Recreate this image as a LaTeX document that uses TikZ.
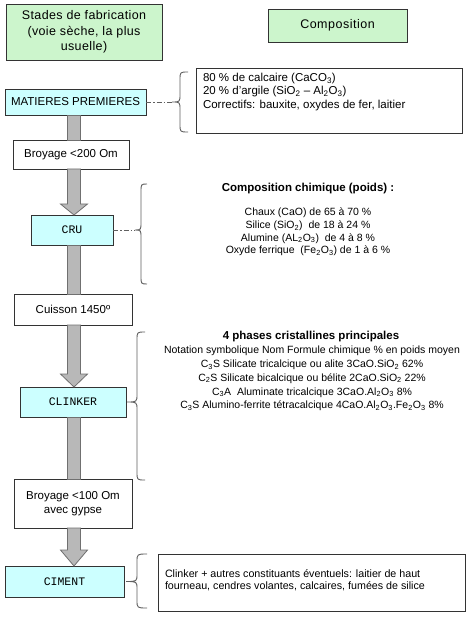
\documentclass[tikz,border=0pt]{standalone}
\usepackage{fontspec}
\setmainfont{Liberation Sans}
\newfontfamily\monof{Liberation Mono}
\usetikzlibrary{calc}
\definecolor{boxgreen}{HTML}{CCF5CC}
\definecolor{boxcyan}{HTML}{CCFFFF}
\definecolor{shaftfill}{HTML}{B8B8B8}
\definecolor{shaftline}{HTML}{707070}
\definecolor{bracecol}{HTML}{606060}
\definecolor{edgecol}{HTML}{333333}
\tikzset{
 every node/.style={inner sep=0pt, outer sep=0pt},
 stagebox/.style={draw=edgecol, line width=0.8pt, fill=white, font=\fontsize{11.5}{14}\selectfont, align=center},
 cyanbox/.style={stagebox, fill=boxcyan},
 monobox/.style={cyanbox, font=\monof\fontsize{11.5}{14}\selectfont},
 headbox/.style={stagebox, fill=boxgreen, font=\fontsize{12.5}{15.5}\selectfont\addfontfeature{LetterSpace=3}},
 wideheadbox/.style={headbox, font=\fontsize{12.5}{15.5}\selectfont\addfontfeature{LetterSpace=4}},
 infobox/.style={draw=edgecol, line width=0.8pt, fill=white},
 infotext/.style={font=\fontsize{11.5}{13.6}\selectfont, align=left},
 smalltext/.style={font=\fontsize{10.5}{12.7}\selectfont, align=center},
 phasetext/.style={font=\fontsize{10.5}{13.8}\selectfont, align=center},
 bottomtext/.style={font=\fontsize{10.7}{12.5}\selectfont, align=left},
 boldhead/.style={font=\bfseries\fontsize{11.5}{14}\selectfont},
 shaft/.style={fill=shaftfill, draw=shaftline, line width=0.8pt},
 bracepath/.style={draw=bracecol, line width=0.9pt},
 dashlink/.style={draw=bracecol, line width=0.8pt, dash pattern=on 5pt off 2pt on 1.5pt off 2pt},
}
\newcommand\mkshaft[2]{%
 \draw[shaft] let \p1=(#1.south), \p2=(#2.north) in (67.5pt,\y1) rectangle (80.5pt,\y2);}
\newcommand\mkarrow[3]{%
 \draw[shaft] let \p1=(#1.south), \p2=(#2.north) in
 (67.5pt,\y1) -- (80.5pt,\y1) -- (80.5pt,{\y2+#3}) -- (87.5pt,{\y2+#3}) -- (74pt,\y2)
 -- (60.5pt,{\y2+#3}) -- (67.5pt,{\y2+#3}) -- cycle;}
% name, xr, xv, xt, ytop, ytip, ybot
\newcommand\mkbrace[7]{%
 \coordinate (#1) at (#4,#6);
 \draw[bracepath] (#2,#5) .. controls (#3,#5) .. ({#3},{#5+8}) -- ({#3},{#6-8})
 .. controls (#3,#6) .. (#1) .. controls (#3,#6) .. ({#3},{#6+8})
 -- ({#3},{#7-8}) .. controls (#3,#7) .. (#2,#7);}
\begin{document}
\begin{tikzpicture}[x=1pt,y=-1pt]
\useasboundingbox[fill=white] (0,0) rectangle (474,617);
% headers
\node[headbox, minimum width=156pt, minimum height=56pt] (title) at (84,32)
 {Stades de fabrication\\(voie sèche, la plus\\usuelle)};
\node[wideheadbox, minimum width=139pt, minimum height=33pt] (comp) at (337.5,25.5) {Composition};
% stages
\node[cyanbox, minimum width=141pt, minimum height=26pt] (mp) at (75.5,102) {MATIERES PREMIERES};
\node[stagebox, minimum width=116pt, minimum height=29pt] (br1) at (71,154.5) {Broyage <200 Om};
\node[monobox, minimum width=82pt, minimum height=30pt] (cru) at (72,230) {CRU};
\node[stagebox, minimum width=118pt, minimum height=31pt] (cuis) at (73,309.5) {Cuisson 1450º};
\node[monobox, minimum width=106pt, minimum height=30pt] (clk) at (73,402) {CLINKER};
\node[stagebox, minimum width=118pt, minimum height=49pt] (br2) at (73,503.5) {Broyage <100 Om\\avec gypse};
\node[monobox, minimum width=119pt, minimum height=31pt] (cim) at (64.5,581.5) {CIMENT};
% arrows
\mkshaft{mp}{br1}
\mkarrow{br1}{cru}{11}
\mkshaft{cru}{cuis}
\mkarrow{cuis}{clk}{13}
\mkshaft{clk}{br2}
\mkarrow{br2}{cim}{16}
% composition: raw materials
\node[infobox, minimum width=266pt, minimum height=65pt] (rawbox) at (329,100.5) {};
\node[infotext, anchor=north west] (rawtext) at (203,73)
 {80 \% de calcaire (CaCO\textsubscript{3})\\
  20 \% d'argile (SiO\textsubscript{2} – Al\textsubscript{2}O\textsubscript{3})\\
  Correctifs: bauxite, oxydes de fer, laitier};
\mkbrace{b1tip}{188}{180}{172}{72}{102}{132}
\draw[dashlink] (mp.east) -- (b1tip);
% composition: raw meal
\node[boldhead] (cchead) at (308,189) {Composition chimique (poids) :};
\node[smalltext, anchor=north] (cclines) at (308,208)
 {Chaux (CaO) de 65 à 70 \%\\
  Silice (SiO\textsubscript{2})\ \ de 18 à 24 \%\\
  Alumine (AL\textsubscript{2}O\textsubscript{3})\ \ de 4 à 8 \%\\
  Oxyde ferrique\ \ (Fe\textsubscript{2}O\textsubscript{3}) de 1 à 6 \%};
\mkbrace{b2tip}{147}{141}{135}{184}{230}{284}
\draw[dashlink] (cru.east) -- (b2tip);
% composition: clinker
\node[boldhead] (phhead) at (311,337) {4 phases cristallines principales};
\node[phasetext, anchor=north] (phlines) at (312,346)
 {Notation symbolique Nom Formule chimique \% en poids moyen\\
  C\textsubscript{3}S Silicate tricalcique ou alite 3CaO.SiO\textsubscript{2} 62\%\\
  C\textsubscript{2}S Silicate bicalcique ou bélite 2CaO.SiO\textsubscript{2} 22\%\\
  C\textsubscript{3}A\ \ Aluminate tricalcique 3CaO.Al\textsubscript{2}O\textsubscript{3} 8\%\\
  C\textsubscript{3}S Alumino-ferrite tétracalcique 4CaO.Al\textsubscript{2}O\textsubscript{3}.Fe\textsubscript{2}O\textsubscript{3} 8\%};
\mkbrace{b3tip}{145}{137}{127}{332}{402}{480}
% composition: cement
\node[infobox, minimum width=307pt, minimum height=57pt] (cimbox) at (311.5,582.5) {};
\node[bottomtext, anchor=west] (cimtext) at (165,580)
 {Clinker + autres constituants éventuels: laitier de haut\\
  fourneau, cendres volantes, calcaires, fumées de silice};
\mkbrace{b4tip}{147}{137}{126}{554}{581.5}{608}
\end{tikzpicture}
\end{document}
